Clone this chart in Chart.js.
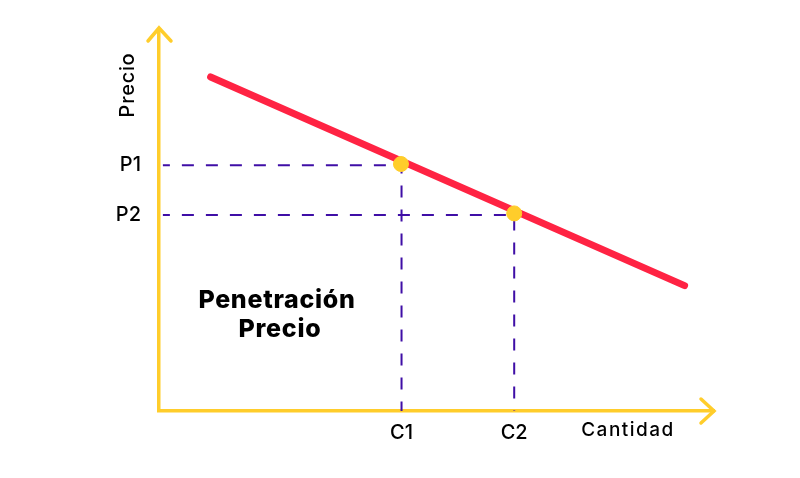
<!DOCTYPE html>
<html>
<head>
<meta charset="utf-8">
<style>
  html, body { margin: 0; background: #fff; }
  #wrap { width: 800px; height: 478px; }
</style>
<script src="https://cdn.jsdelivr.net/npm/chart.js@4"></script>
</head>
<body>
<div id="wrap"><canvas id="chart"></canvas></div>
<script>
const cantidadTicks = [43.7, 64];
const cantidadLabels = ['C1', 'C2'];
const precioTicks = [64.7, 51.6];
const precioLabels = ['P1', 'P2'];
const demandaX = [9.3, 94.7];
const demandaY = [87.9, 33];
const puntosX = [43.6, 64];
const puntosY = [65, 52];

const yellow = '#ffcd2b';
const red = '#ff2343';
const purple = '#3f0ea6';
const font = 'Inter, sans-serif';

function toPoints(xs, ys) {
  return xs.map((x, i) => ({ x: x, y: ys[i] }));
}

function guide(i) {
  return {
    data: [
      { x: 0.7, y: precioTicks[i] },
      { x: cantidadTicks[i], y: precioTicks[i] },
      { x: cantidadTicks[i], y: 0 }
    ],
    borderColor: purple,
    borderWidth: 2,
    borderDash: [12, 12],
    borderDashOffset: 5,
    pointRadius: 0,
    order: 3
  };
}

// arrow heads and the free text sit on top of the chart
const extras = {
  id: 'extras',
  afterDraw(chart) {
    const c = chart.ctx;
    const a = chart.chartArea;
    c.save();
    c.strokeStyle = yellow;
    c.lineWidth = 3.5;
    c.lineCap = 'round';
    c.lineJoin = 'miter';
    c.beginPath();
    c.moveTo(a.left - 11, a.top + 10);
    c.lineTo(a.left, a.top - 3);
    c.lineTo(a.left + 12, a.top + 10);
    c.stroke();
    c.beginPath();
    c.moveTo(a.right - 13, a.bottom - 12);
    c.lineTo(a.right, a.bottom);
    c.lineTo(a.right - 13, a.bottom + 12);
    c.stroke();

    c.fillStyle = '#000';
    c.textAlign = 'center';
    c.textBaseline = 'middle';
    c.font = '800 25px ' + font;
    c.letterSpacing = '0.7px';
    c.fillText('Penetración', 277, 300);
    c.fillText('Precio', 280, 329);
    c.font = '500 19px ' + font;
    c.letterSpacing = '1.5px';
    c.fillText('Cantidad', 628, 430);
    c.font = '500 20px ' + font;
    c.letterSpacing = '0.7px';
    c.translate(128, 85);
    c.rotate(-Math.PI / 2);
    c.fillText('Precio', 0, 0);
    c.restore();
  }
};

new Chart(document.getElementById('chart'), {
  type: 'line',
  data: {
    datasets: [
      guide(0),
      guide(1),
      {
        data: toPoints(demandaX, demandaY),
        borderColor: red,
        borderWidth: 7,
        borderCapStyle: 'round',
        pointRadius: 0,
        order: 2
      },
      {
        data: toPoints(puntosX, puntosY),
        showLine: false,
        backgroundColor: yellow,
        borderColor: yellow,
        pointRadius: 7.5,
        order: 1
      }
    ]
  },
  options: {
    responsive: true,
    maintainAspectRatio: false,
    animation: false,
    layout: { padding: { top: 31, right: 86 } },
    plugins: { legend: { display: false }, tooltip: { enabled: false } },
    scales: {
      x: {
        type: 'linear',
        min: 0,
        max: 100,
        afterFit(s) { s.height = 67; },
        afterBuildTicks(s) { s.ticks = cantidadTicks.map(v => ({ value: v })); },
        grid: { display: false, tickLength: 0 },
        border: { display: true, color: yellow, width: 3.5 },
        ticks: {
          autoSkip: false,
          maxRotation: 0,
          padding: 10,
          color: '#000',
          font: { family: font, size: 20, weight: '500' },
          callback: v => cantidadLabels[cantidadTicks.indexOf(v)]
        }
      },
      y: {
        type: 'linear',
        min: 0,
        max: 100,
        afterFit(s) { s.width = 159; },
        afterBuildTicks(s) { s.ticks = precioTicks.map(v => ({ value: v })); },
        grid: { display: false, tickLength: 0 },
        border: { display: true, color: yellow, width: 3.5 },
        ticks: {
          autoSkip: false,
          padding: 18,
          color: '#000',
          font: { family: font, size: 20, weight: '500' },
          callback: v => precioLabels[precioTicks.indexOf(v)]
        }
      }
    }
  },
  plugins: [extras]
});
</script>
</body>
</html>
